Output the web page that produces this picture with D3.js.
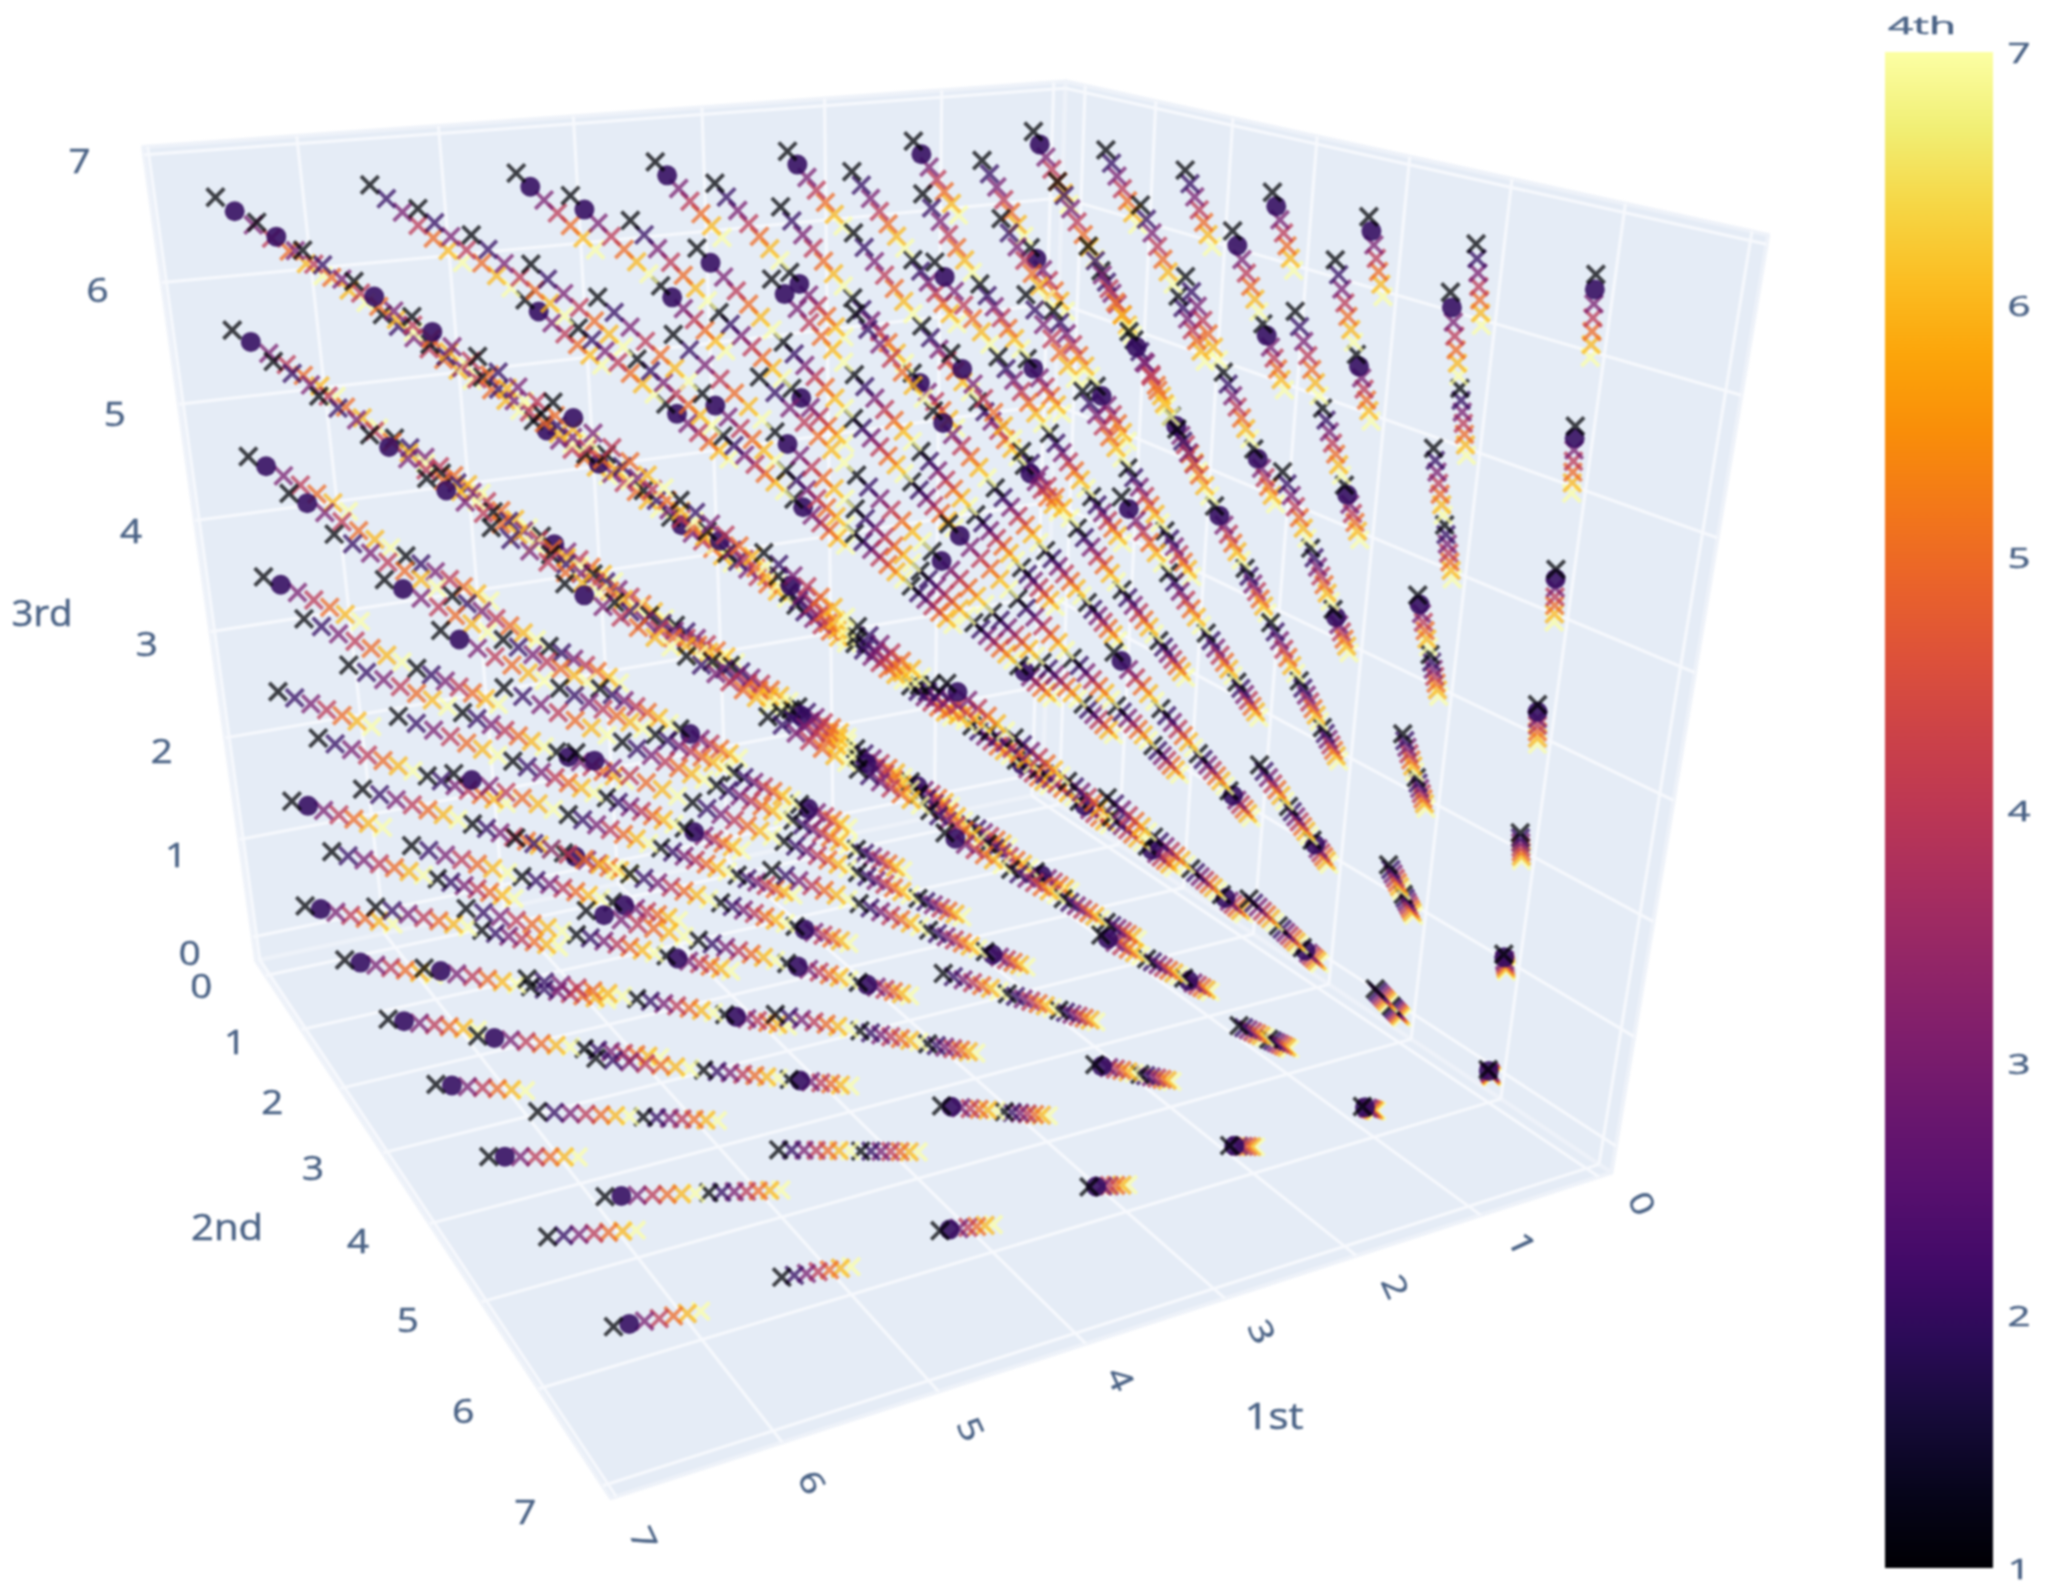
<!DOCTYPE html>
<html><head><meta charset="utf-8">
<script src="https://cdnjs.cloudflare.com/ajax/libs/d3/7.8.5/d3.min.js"></script>
<style>html,body{margin:0;background:#fff}svg{display:block;filter:blur(.9px)}</style></head>
<body><svg id="c" width="2049" height="1593"></svg>
<script>
const first=[1,2,3,4,5,6,7], second=[1,2,3,4,5,6,7], third=[1,2,3,4,5,6,7], fourth=[1,2,3,4,5,6,7];
const axisTicks=[0,1,2,3,4,5,6,7];
const offsetPerFourth=1/7;
// (1st,2nd,3rd) whose 4th = 2 point is drawn as a circle
const circleFourth=[2];
const circleTriples=[111,112,114,115,116,117,121,125,131,135,141,142,145,146,147,151,152,154,155,156,157,171,172,174,175,176,177,
211,215,217,231,251,255,257,271,275,277,311,314,315,316,317,341,371,411,412,414,415,416,417,431,433,441,443,455,456,457,471,472,473,475,476,477,
511,512,514,515,516,517,521,525,527,531,541,545,546,547,551,552,555,556,557,571,572,574,575,576,577,
711,712,714,715,716,717,721,725,727,731,741,742,745,746,747,751,752,754,755,756,757,771,772,774,775,776,777];
const rangeX=[-0.11,7.03], rangeY=[-0.29,7.12], rangeZ=[-0.25,7.06];
const [xa,xb]=rangeX,[ya,yb]=rangeY,[za,zb]=rangeZ;
const k=offsetPerFourth;
const mk=(a,b,c,u,v)=>[a-k,b-k,c-k,u,v];
// camera calibration only: [1st,2nd,3rd,screenX,screenY]
const cxa=-0.11,cxb=7.1,cya=-0.29,cyb=7.2,cza=-0.2,czb=7.06;
const calib=[[cxb,cya,cza,249,963],[cxb,cyb,cza,605,1494],[cxa,cyb,cza,1620,1167],[cxb,cya,czb,143,146],[cxa,cya,czb,1070,82],[cxa,cyb,czb,1771,229],
[6,cya,czb,301,135],[5,cya,czb,442,125],[4,cya,czb,576,116],[3,cya,czb,704,107],[2,cya,czb,825,99],[1,cya,czb,941,91],[0,cya,czb,1057,83],
[cxb,cya,6,161,282],[cxb,cya,5,177,405],[cxb,cya,4,192,523],[cxb,cya,2,220,742],[cxb,cya,1,233,843],[cxb,cya,0,246,942],
[7,cyb,cza,603,1492],[6,cyb,cza,770,1436],[5,cyb,cza,931,1384],[4,cyb,cza,1084,1336],[3,cyb,cza,1221,1287],[2,cyb,cza,1358,1244],[1,cyb,cza,1480,1205],[0,cyb,cza,1600,1159],
[cxb,4,cza,423,1222],[cxb,5,cza,474,1298],[cxb,6,cza,533,1387],
[cxa,0,czb,1091,86],[cxa,1,czb,1164,101],[cxa,2,czb,1240,118],[cxa,3,czb,1323,135]];
const calibMarks=[mk(7,7,1,615,1330),mk(6,7,1,783,1280),mk(7,6,1,548,1239),mk(7,7,2,607,1198),mk(7,1,7,216,196),mk(7,1,6,232,328),mk(7,1,5,247,455),mk(7,1,4,261,576),mk(6,1,7,370,185),mk(5,1,7,516,174),mk(4,1,7,653,161),mk(3,1,7,785,151),mk(2,1,7,908,142),mk(1,1,7,1028,131),mk(1,2,7,1102,150),mk(1,3,7,1183,170),mk(1,4,7,1271,190),mk(1,5,7,1368,216),mk(1,6,7,1474,246),mk(1,7,7,1594,274),mk(1,7,1,1493,1075),mk(2,7,1,1369,1111),mk(3,7,1,1238,1149),mk(4,7,1,1099,1190),mk(1,7,2,1507,958),mk(1,7,3,1523,836),mk(1,7,4,1539,711),mk(7,1,3,276,692),mk(7,1,2,289,799),mk(7,1,1,300,906),mk(7,2,1,341,960),mk(7,3,1,387,1020),mk(7,4,1,437,1086),mk(7,5,1,490,1158)];
function solve(A,b){const n=b.length;A=A.map((r,i)=>[...r,b[i]]);for(let i=0;i<n;i++){let p=i;for(let q=i+1;q<n;q++)if(Math.abs(A[q][i])>Math.abs(A[p][i]))p=q;[A[i],A[p]]=[A[p],A[i]];for(let q=0;q<n;q++){if(q===i)continue;const f=A[q][i]/A[i][i];for(let j=i;j<=n;j++)A[q][j]-=f*A[i][j];}}return A.map((r,i)=>r[n]/r[i]);}
const N=Array.from({length:11},()=>Array(11).fill(0)),R=Array(11).fill(0);
const add=(r,v,w)=>{for(let i=0;i<11;i++){R[i]+=w*r[i]*v;for(let j=0;j<11;j++)N[i][j]+=w*r[i]*r[j];}};
const ad=w=>([x,y,z,u,v])=>{add([x,y,z,1,0,0,0,0,-u*x,-u*y,-u*z],u,w);add([0,0,0,0,x,y,z,1,-v*x,-v*y,-v*z],v,w);};
calib.forEach(ad(1));calibMarks.forEach(ad(3));
const m=solve(N,R);
const W=(x,y,z)=>m[8]*x+m[9]*y+m[10]*z+1;
const proj=(x,y,z)=>{const w=W(x,y,z);return[(m[0]*x+m[1]*y+m[2]*z+m[3])/w,(m[4]*x+m[5]*y+m[6]*z+m[7])/w];};
const svg=d3.select('#c');
const wall="#e5ecf6",lab="#4a6285",font="'Open Sans',sans-serif";
const poly=p=>p.map(q=>proj(...q).join(',')).join(' ');
const walls=[[[xb,ya,za],[xa,ya,za],[xa,ya,zb],[xb,ya,zb]],[[xa,ya,za],[xa,yb,za],[xa,yb,zb],[xa,ya,zb]],[[xa,ya,za],[xb,ya,za],[xb,yb,za],[xa,yb,za]]];
svg.append('g').selectAll('polygon').data(walls).join('polygon').attr('points',poly).attr('fill',wall).attr('stroke','#eef2f9').attr('stroke-width',4).attr('stroke-linejoin','round');
const grid=[];
axisTicks.forEach(t=>{grid.push([[t,ya,za],[t,ya,zb]],[[t,ya,za],[t,yb,za]],[[xa,t,za],[xa,t,zb]],[[xa,t,za],[xb,t,za]],[[xa,ya,t],[xb,ya,t]],[[xa,ya,t],[xa,yb,t]]);});
svg.append('g').selectAll('line').data(grid).join('line').each(function(d){const a=proj(...d[0]),b=proj(...d[1]);d3.select(this).attr('x1',a[0]).attr('y1',a[1]).attr('x2',b[0]).attr('y2',b[1]);}).attr('stroke','#f7f9fd').attr('stroke-width',3);
const color=d3.scaleSequential(d3.interpolateInferno).domain([1,7]);
const circleSet=new Set(circleTriples);
const pts=[];
first.forEach(a=>second.forEach(b=>third.forEach(c=>fourth.forEach(d=>{const s=d*offsetPerFourth;pts.push({a,b,c,d,p:[a-s,b-s,c-s],round:circleFourth.includes(d)&&circleSet.has(a*100+b*10+c)});}))));
pts.forEach(o=>{o.w=W(...o.p);o.s=proj(...o.p);});
pts.sort((u,v)=>v.w-u.w);
const r=8.8;
const xPath=`M${-r},${-r}L${r},${r}M${-r},${r}L${r},${-r}`;
const circlePath=d3.symbol(d3.symbolCircle,Math.PI*10*10)();
svg.append('g').selectAll('path').data(pts).join('path').attr('transform',o=>`translate(${o.s[0]},${o.s[1]})`)
 .attr('d',o=>o.round?circlePath:xPath)
 .attr('fill',o=>o.round?color(o.d):'none').attr('fill-opacity',.88)
 .attr('stroke',o=>o.round?'none':color(o.d)).attr('stroke-width',3.8).attr('stroke-opacity',.74);
const tx=(x,y,t,size,width,rot)=>{const e=svg.append('text').attr('x',x).attr('y',y).attr('text-anchor','middle').attr('dominant-baseline','central').attr('font-family',font).attr('font-size',size).attr('fill',lab).attr('stroke',lab).attr('stroke-width',.5).attr('textLength',width).attr('lengthAdjust','spacingAndGlyphs').text(t);if(rot)e.attr('transform',`rotate(${rot} ${x} ${y})`);return e;};
axisTicks.forEach(t=>{
 const z=proj(cxb,cya,t); tx(z[0]-54,z[1]+14-9*t/7,t,32,22);
 const y=proj(cxb,t,cza); tx(y[0]-55-10*t/7,y[1]+3.5*t+3+Math.max(0,5-t)*2,t,32,22);
 const x=proj(t,cyb,cza); tx(x[0]+35-1.7*t,x[1]+26+1.9*t,t,32,22,65);
});
tx(42,612,'3rd',36,61);
tx(227,1226,'2nd',36,72);
tx(1274,1415,'1st',36,59);
const grad=svg.append('defs').append('linearGradient').attr('id','g').attr('x1',0).attr('y1',1).attr('x2',0).attr('y2',0);
d3.range(0,1.001,.05).forEach(t=>grad.append('stop').attr('offset',t).attr('stop-color',d3.interpolateInferno(t)));
svg.append('rect').attr('x',1885).attr('y',52).attr('width',108).attr('height',1516).attr('fill','url(#g)');
const cb=d3.scaleLinear().domain([1,7]).range([1568,52]);
fourth.forEach(t=>tx(2019,cb(t),t,28,23));
tx(1922,24,'4th',24,68);
</script></body></html>
